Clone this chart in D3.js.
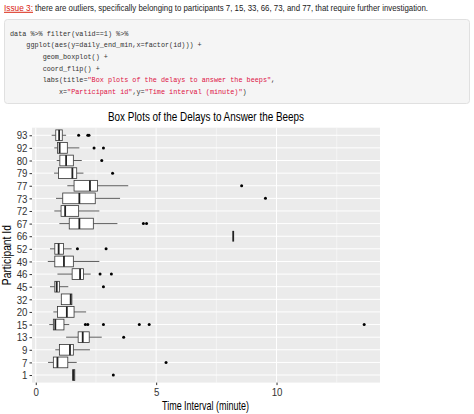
<!DOCTYPE html>
<html><head><meta charset="utf-8">
<script src="https://cdn.jsdelivr.net/npm/d3@7"></script>
<style>
body{margin:0;background:#fff;}
svg{display:block;}
</style></head>
<body>
<svg id="c" width="474" height="414"></svg>
<script>
// ---- data ----
const ids = ["93","92","80","79","77","73","72","67","66","52","49","46","45","32","20","15","13","9","7","1"];
const whiskerLow  = [0.66,0.77,0.87,0.76,1.31,0.84,0.77,0.98,8.20,0.59,0.50,0.90,0.59,1.06,0.73,0.56,1.26,0.81,0.51,1.53];
const q1          = [0.83,0.90,1.00,0.94,1.59,1.12,1.05,1.39,8.20,0.79,0.79,1.51,0.79,1.06,0.90,0.73,1.76,0.98,0.73,1.53];
const medians     = [0.97,0.99,1.26,1.52,2.25,1.81,1.22,1.81,8.20,0.95,1.17,1.84,0.87,1.45,1.29,0.81,1.95,1.42,0.90,1.57];
const q3          = [1.10,1.31,1.56,1.70,2.56,2.47,1.78,2.39,8.20,1.15,1.56,1.98,0.98,1.50,1.59,1.17,2.22,1.56,1.33,1.62];
const whiskerHigh = [1.26,1.81,1.91,1.98,3.84,3.50,2.64,3.39,8.20,1.49,2.64,2.28,1.35,1.50,2.09,1.39,2.74,2.25,1.70,1.62];
const outliers    = [[1.78,2.16,2.21],[2.42,2.81],[2.74],[3.19],[8.55],[9.54],[],[4.47,4.60],[],[1.73,2.92],[],[2.67,3.14],[2.81],[],[],[2.06,2.16,2.81,4.30,4.71,13.64],[3.65],[],[5.41],[3.22]];
const xTicks = [0,5,10];
const xMinor = [2.5,7.5,12.5];
const chartTitle = "Box Plots of the Delays to Answer the Beeps";
const xTitle = "Time Interval (minute)";
const yTitle = "Participant Id";
const issueLabel = "Issue 3:";
const issueText = "there are outliers, specifically belonging to participants 7, 15, 33, 66, 73, and 77, that require further investigation.";
const codeLines = [
  [["data %>% filter(valid==1) %>%", "p"]],
  [["    ggplot(aes(y=daily_end_min,x=factor(id))) +", "p"]],
  [["        geom_boxplot() +", "p"]],
  [["        coord_flip() +", "p"]],
  [["        labs(title=", "p"], ["\"Box plots of the delays to answer the beeps\"", "s"], [",", "p"]],
  [["            x=", "p"], ["\"Participant id\"", "s"], [",y=", "p"], ["\"Time interval (minute)\"", "s"], [")", "p"]]
];

(function(){
const rows = ids.map((id,i)=>({id, lo:whiskerLow[i], q1:q1[i], med:medians[i], q3:q3[i], hi:whiskerHigh[i], out:outliers[i]}));

const svg = d3.select("#c");
const SANS = "'Liberation Sans',Arial,sans-serif";
const MONO = "'Liberation Mono','DejaVu Sans Mono',monospace";

// ---- header ----
svg.append("text").attr("x",4).attr("y",10.8).style("font-family",SANS).style("font-size","9.8px")
  .attr("fill","#d9230f").style("text-decoration","underline")
  .attr("textLength",29).attr("lengthAdjust","spacingAndGlyphs").text(issueLabel);
svg.append("text").attr("x",35).attr("y",10.8).style("font-family",SANS).style("font-size","8.8px")
  .attr("fill","#222").attr("textLength",393).attr("lengthAdjust","spacingAndGlyphs").text(issueText);

svg.append("rect").attr("x",4.5).attr("y",19.5).attr("width",465).attr("height",84).attr("rx",3)
  .attr("fill","#f5f5f5").attr("stroke","#e0e0e0");
codeLines.forEach((ln,i)=>{
  const t = svg.append("text").attr("x",10).attr("y",35.7+i*11.6).style("font-family",MONO).style("font-size","6.8px").style("white-space","pre");
  ln.forEach(([s,k])=>t.append("tspan").text(s).attr("fill", k==="s" ? "#dd1144" : "#333"));
});

// ---- chart ----
const pLeft = 32, pRight = 380, pTop = 127.7, pBottom = 382.6;
const allVals = rows.flatMap(r=>[r.lo,r.hi,...r.out]);
const [mn,mx] = d3.extent(allVals);
const pad = (mx-mn)*0.05;
const x = d3.scaleLinear().domain([mn-pad, mx+pad]).range([pLeft,pRight]);
const y = d3.scalePoint().domain(ids).range([pTop,pBottom]).padding(0.6);
const bh = y.step()*0.85;

const g = svg.append("g");
g.append("rect").attr("x",pLeft).attr("y",pTop).attr("width",pRight-pLeft).attr("height",pBottom-pTop).attr("fill","#ebebeb");
g.selectAll(".minor").data(xMinor).join("line").attr("x1",d=>x(d)).attr("x2",d=>x(d)).attr("y1",pTop).attr("y2",pBottom).attr("stroke","#fff").attr("stroke-width",0.5);
g.selectAll(".major").data(xTicks).join("line").attr("x1",d=>x(d)).attr("x2",d=>x(d)).attr("y1",pTop).attr("y2",pBottom).attr("stroke","#fff").attr("stroke-width",1);
g.selectAll(".hg").data(ids).join("line").attr("x1",pLeft).attr("x2",pRight).attr("y1",d=>y(d)).attr("y2",d=>y(d)).attr("stroke","#fff").attr("stroke-width",1);

const bx = g.selectAll(".box").data(rows).join("g");
bx.append("line").attr("x1",d=>x(d.lo)).attr("x2",d=>x(d.q1)).attr("y1",d=>y(d.id)).attr("y2",d=>y(d.id)).attr("stroke","#333").attr("stroke-width",0.8);
bx.append("line").attr("x1",d=>x(d.q3)).attr("x2",d=>x(d.hi)).attr("y1",d=>y(d.id)).attr("y2",d=>y(d.id)).attr("stroke","#333").attr("stroke-width",0.8);
bx.append("rect").attr("x",d=>x(d.q1)).attr("width",d=>x(d.q3)-x(d.q1)).attr("y",d=>y(d.id)-bh/2).attr("height",bh)
  .attr("fill","#fff").attr("stroke","#333").attr("stroke-width",0.8);
bx.append("line").attr("x1",d=>x(d.med)).attr("x2",d=>x(d.med)).attr("y1",d=>y(d.id)-bh/2).attr("y2",d=>y(d.id)+bh/2).attr("stroke","#222").attr("stroke-width",1.8);
bx.each(function(d){
  d3.select(this).selectAll("circle").data(d.out).join("circle").attr("cx",v=>x(v)).attr("cy",y(d.id)).attr("r",1.5).attr("fill","#000");
});

// axes
const xa = svg.append("g").attr("transform",`translate(0,${pBottom})`)
  .call(d3.axisBottom(x).tickValues(xTicks).tickSize(2.5).tickPadding(2.5).tickFormat(d3.format("d")));
const ya = svg.append("g").attr("transform",`translate(${pLeft},0)`)
  .call(d3.axisLeft(y).tickSize(2.5).tickPadding(2));
[xa,ya].forEach(a=>{
  a.select(".domain").remove();
  a.selectAll(".tick line").attr("stroke","#333");
  a.selectAll(".tick text").attr("fill","#333").style("font-family",SANS).style("font-size","11.5px")
    .attr("textLength",function(){return this.textContent.length*5.4;}).attr("lengthAdjust","spacingAndGlyphs");
});

svg.append("text").attr("x",206).attr("y",120.7).attr("text-anchor","middle").style("font-family",SANS).style("font-size","13px").attr("fill","#000")
  .attr("textLength",196).attr("lengthAdjust","spacingAndGlyphs").text(chartTitle);
svg.append("text").attr("x",205.5).attr("y",409.5).attr("text-anchor","middle").style("font-family",SANS).style("font-size","13px").attr("fill","#000")
  .attr("textLength",87).attr("lengthAdjust","spacingAndGlyphs").text(xTitle);
svg.append("text").attr("transform",`translate(10.5,${(pTop+pBottom)/2}) rotate(-90)`).attr("text-anchor","middle").style("font-family",SANS).style("font-size","13.5px").attr("fill","#000")
  .attr("textLength",60).attr("lengthAdjust","spacingAndGlyphs").text(yTitle);
})();
</script>
</body></html>
